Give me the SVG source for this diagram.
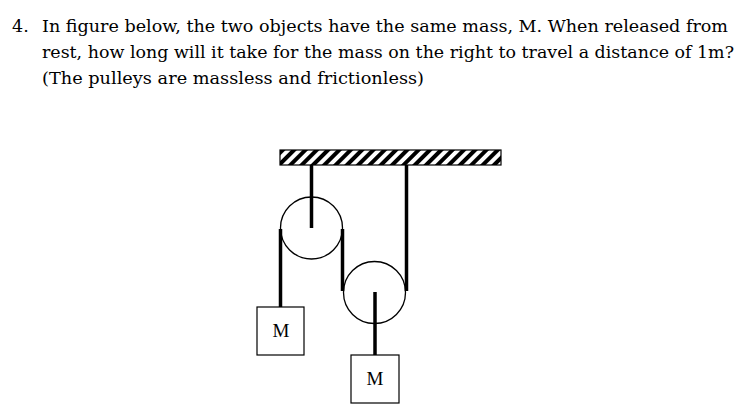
<svg xmlns="http://www.w3.org/2000/svg" width="756" height="419" viewBox="0 0 756 419">
<defs>
<style>
.t{font-family:"DejaVu Serif","Liberation Serif",serif;font-size:17.5px;fill:#000}
.m{font-family:"Liberation Serif",serif;font-size:19px;fill:#000;text-anchor:middle}
.rope{stroke:#000;stroke-width:3.5;fill:none}
.wheel{stroke:#000;stroke-width:1.3;fill:none}
.box{stroke:#000;stroke-width:1.2;fill:#fff}
</style>
<pattern id="hatch" width="8" height="8" patternUnits="userSpaceOnUse" patternTransform="rotate(45)">
<rect width="8" height="8" fill="#fff"/><rect width="4" height="8" fill="#000"/>
</pattern>
</defs>
<rect width="756" height="419" fill="#fff"/>
<g id="question">
<text class="t" x="12" y="32">4.</text>
<text class="t" x="42" y="32" textLength="686" lengthAdjust="spacingAndGlyphs">In figure below, the two objects have the same mass, M. When released from</text>
<text class="t" x="42" y="58" textLength="692" lengthAdjust="spacingAndGlyphs">rest, how long will it take for the mass on the right to travel a distance of 1m?</text>
<text class="t" x="42" y="84" textLength="382" lengthAdjust="spacingAndGlyphs">(The pulleys are massless and frictionless)</text>
</g>
<g id="ceiling"><rect x="280" y="150" width="221" height="15" fill="url(#hatch)" stroke="#000" stroke-width="1.2"/></g>
<g id="pulley1"><circle class="wheel" cx="311.5" cy="228" r="31"/></g>
<g id="pulley2"><circle class="wheel" cx="374.5" cy="292.5" r="31"/></g>
<g id="connectors">
<line class="rope" x1="311.5" y1="165" x2="311.5" y2="228"/>
<line class="rope" x1="280.5" y1="229" x2="280.5" y2="307"/>
<line class="rope" x1="342.5" y1="229" x2="342.5" y2="291"/>
<line class="rope" x1="406.5" y1="165" x2="406.5" y2="291"/>
<line class="rope" x1="375" y1="292" x2="375" y2="355"/>
</g>
<g id="mass1"><rect class="box" x="257" y="307" width="47" height="48"/><text class="m" x="281" y="337">M</text></g>
<g id="mass2"><rect class="box" x="351" y="355" width="48" height="48"/><text class="m" x="375" y="385">M</text></g>
</svg>
